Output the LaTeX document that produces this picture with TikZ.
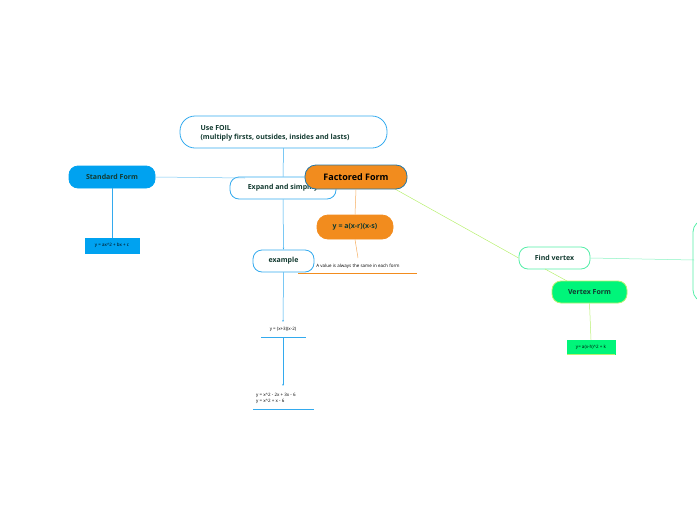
\documentclass[tikz,border=0pt]{standalone}
\usepackage{fontspec}
\setmainfont{Open Sans}
\usetikzlibrary{arrows.meta}
\begin{document}
\begin{tikzpicture}[x=1pt,y=-1pt,
 box/.style={draw,rounded corners=9pt,line width=0.8pt,inner sep=0pt,font=\fontsize{7}{8}\selectfont\bfseries,text=txt},
 small/.style={font=\fontsize{4.5}{5.5}\selectfont,text=black,inner sep=1pt},
 con/.style={line width=0.5pt}]
\definecolor{txt}{HTML}{123A30}
\definecolor{bl}{HTML}{00A2F0}
\definecolor{blb}{HTML}{33AAEE}
\definecolor{orf}{HTML}{F28C1E}
\definecolor{gr}{HTML}{00F57A}
\definecolor{grb}{HTML}{55EEA8}
\definecolor{lg}{HTML}{B8F070}
\useasboundingbox (0,0) rectangle (697,520);
\coordinate (e1) at (283,322);
\coordinate (e2) at (283,386);
\coordinate (av) at (358,258);
\coordinate (rb) at (694,260);
\node[box,draw=blb,minimum width=207pt,minimum height=32pt,rounded corners=15pt] (foil) at (283.5,132) {};
\node[align=left,font=\fontsize{7}{8.5}\selectfont\bfseries,text=txt,anchor=west] at (197,133.5) {Use FOIL\\(multiply firsts, outsides, insides and lasts)};
\node[box,draw=bl,fill=bl,minimum width=86pt,minimum height=22pt] (std) at (112,177) {Standard Form};
\node[box,draw=blb,fill=white,minimum width=106pt,minimum height=22pt] (exp) at (283,188) {Expand and simplify};
\node[box,draw=bl,fill=bl,minimum width=54pt,minimum height=15pt,rounded corners=0pt,font=\fontsize{4.5}{5}\selectfont,text=black] (sf) at (112,245.5) {y = ax\^{}2 + bx + c};
\node[box,draw=blb,fill=white,minimum width=61pt,minimum height=22pt] (ex) at (283.5,261) {example};
\draw[con,blb] (foil.south) -- (exp.north);
\draw[con,blb!70] (245,178) -- (std.east);
\draw[con,blb] (std.south) -- (sf.north);
\draw[con,blb,-{Stealth[length=2pt]}] (exp.south) -- (ex.north);
\draw[con,blb,-{Stealth[length=2pt]}] (ex.south) -- (e1);
\draw[con,blb,-{Stealth[length=2pt]}] (283,337) -- (e2);
\node[small] at (283,329) {y = (x+3)(x-2)};
\draw[blb,line width=1pt] (261,337) -- (306,337);
\node[small,align=left,anchor=west] at (255,398.5) {y = x\^{}2 - 2x + 3x - 6\\y = x\^{}2 + x - 6};
\draw[blb,line width=1pt] (253,409) -- (314,409);
\node[box,draw=orf,fill=orf,minimum width=76pt,minimum height=24pt,rounded corners=11pt] (yo) at (355,227) {y = a(x-r)(x-s)};
\node[box,draw=grb,fill=white,minimum width=71pt,minimum height=22pt] (fv) at (554.5,258) {Find vertex};
\draw[con,lg] (395,189) -- (fv.west);
\draw[con,lg] (545,269) -- (567,281);
\draw[con,grb!70] (fv.east) -- (rb);
\node[box,draw=lg,fill=gr,minimum width=75pt,minimum height=22pt] (vf) at (589.5,292) {Vertex Form};
\node[box,draw=gr,fill=gr,minimum width=48pt,minimum height=14pt,rounded corners=0pt,font=\fontsize{4.5}{5}\selectfont,text=black] (vk) at (591,347) {y= a(x-h)\^{}2 + k};
\draw[con,lg] (vf.south) -- (vk.north);
\draw[lg,line width=1pt] (567,354) -- (615,354);
\node[box,draw=blb!70!black,fill=orf,minimum width=102pt,minimum height=24pt,rounded corners=11pt,font=\fontsize{9}{10}\selectfont\bfseries,text=black] (ff) at (356,177) {Factored Form};
\draw[con,orf!70] (ff.south) -- (yo.north);
\draw[con,orf!70] (yo.south) -- (av);
\node[small] at (358,266) {A value is always the same in each form};
\draw[orf,line width=1pt] (298,273) -- (417,273);
\draw[grb,line width=0.8pt,rounded corners=12pt] (705,220) -- (693,220) -- (693,302) -- (705,302);
\end{tikzpicture}
\end{document}
